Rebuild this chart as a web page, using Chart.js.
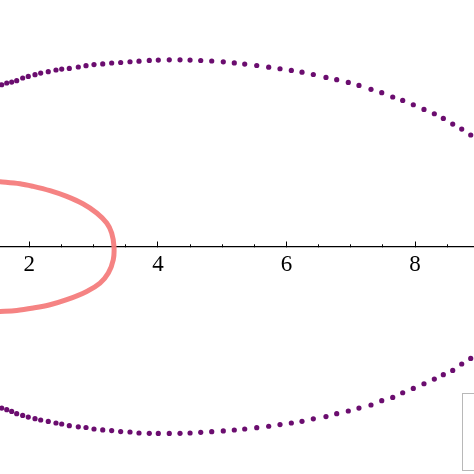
<!DOCTYPE html>
<html>
<head>
<meta charset="utf-8">
<script src="https://cdn.jsdelivr.net/npm/chart.js@4.4.1/dist/chart.umd.min.js"></script>
<style>
  html, body { margin: 0; padding: 0; background: #fff; }
  #wrap { position: relative; width: 474px; height: 474px; overflow: hidden; }
  #legendBox {
    position: absolute; left: 462px; top: 393px; width: 40px; height: 76px;
    border: 1.5px solid #b8b8b8; background: #fff;
  }
</style>
</head>
<body>
<div id="wrap">
  <canvas id="orbitChart" width="474" height="474"></canvas>
  <div id="legendBox"></div>
</div>
<script>
// tick labels on the x axis
var tickLabels = [2, 4, 6, 8];

// inner (pink) closed curve
var pinkX = [1.45, 1.544, 1.855, 2.062, 2.322, 2.582, 2.840, 3.048, 3.204, 3.281, 3.317,
             3.306, 3.229, 3.100, 2.893, 2.582, 2.322, 2.062, 1.804, 1.544, 1.45];
var pinkY = [1.015, 1.008, 0.977, 0.935, 0.868, 0.779, 0.661, 0.521, 0.365, 0.210, 0.0,
             -0.205, -0.412, -0.568, -0.698, -0.827, -0.905, -0.956, -0.994, -1.009, -1.012];

// outer (purple) dotted curve, x positions of the dots
var purpleX = [1.571, 1.649, 1.726, 1.804, 1.897, 1.984, 2.089, 2.177, 2.295, 2.415,
               2.504, 2.622, 2.762, 2.882, 3.006, 3.142, 3.281, 3.421, 3.566, 3.706,
               3.866, 4.006, 4.177, 4.344, 4.500, 4.666, 4.837, 5.017, 5.188, 5.350,
               5.537, 5.723, 5.899, 6.075, 6.241, 6.417, 6.614, 6.781, 6.961, 7.127,
               7.314, 7.481, 7.652, 7.807, 7.972, 8.138, 8.299, 8.439, 8.585, 8.725, 8.865];
var purpleUpperY = [2.516, 2.543, 2.558, 2.579, 2.621, 2.645, 2.672, 2.698, 2.719, 2.745,
                    2.760, 2.770, 2.792, 2.812, 2.830, 2.840, 2.854, 2.862, 2.874, 2.882,
                    2.895, 2.900, 2.903, 2.903, 2.900, 2.893, 2.885, 2.872, 2.856, 2.838,
                    2.815, 2.790, 2.765, 2.739, 2.712, 2.675, 2.630, 2.595, 2.552, 2.505,
                    2.445, 2.392, 2.325, 2.272, 2.205, 2.132, 2.065, 1.992, 1.905, 1.827, 1.734];
var purpleLowerY = [-2.512, -2.538, -2.565, -2.600, -2.627, -2.652, -2.678, -2.698, -2.720, -2.745,
                    -2.760, -2.787, -2.805, -2.815, -2.838, -2.852, -2.862, -2.878, -2.885, -2.900,
                    -2.905, -2.907, -2.907, -2.905, -2.900, -2.890, -2.880, -2.868, -2.854, -2.838,
                    -2.818, -2.795, -2.770, -2.745, -2.718, -2.680, -2.645, -2.600, -2.558, -2.512,
                    -2.465, -2.398, -2.347, -2.274, -2.207, -2.134, -2.061, -1.994, -1.927, -1.827, -1.740];

function toPoints(xs, ys) {
    return xs.map(function (x, i) { return { x: x, y: ys[i] }; });
}

var purpleColor = '#6b0d6f';
var pinkColor = 'rgba(244, 124, 124, 0.95)';

var ctx = document.getElementById('orbitChart').getContext('2d');
var orbitChart = new Chart(ctx, {
    type: 'scatter',
    data: {
        datasets: [{
            label: 'inner',
            data: toPoints(pinkX, pinkY),
            showLine: true,
            borderColor: pinkColor,
            borderWidth: 5,
            tension: 0.35,
            pointRadius: 0,
            xAxisID: 'x'
        }, {
            label: 'outer upper',
            data: toPoints(purpleX, purpleUpperY),
            showLine: false,
            pointRadius: 2.6,
            pointBorderWidth: 0,
            pointBackgroundColor: purpleColor,
            xAxisID: 'x'
        }, {
            label: 'outer lower',
            data: toPoints(purpleX, purpleLowerY),
            showLine: false,
            pointRadius: 2.6,
            pointBorderWidth: 0,
            pointBackgroundColor: purpleColor,
            xAxisID: 'x'
        }]
    },
    options: {
        responsive: false,
        animation: false,
        devicePixelRatio: 1,
        layout: { padding: 0, autoPadding: false },
        plugins: { legend: { display: false }, tooltip: { enabled: false } },
        scales: {
            y: {
                display: false,
                min: -3.538,
                max: 3.834
            },
            // minor ticks every 0.5, no labels
            x: {
                type: 'linear',
                position: { y: 0 },
                min: 1.5443,
                max: 8.916,
                border: { display: true, color: '#000', width: 1.3 },
                grid: { drawOnChartArea: false, drawTicks: true, tickLength: -3, tickColor: '#000', tickWidth: 1 },
                ticks: { stepSize: 0.5, includeBounds: false, display: false },
                afterFit: function (scale) { scale.paddingLeft = 0; scale.paddingRight = 0; }
            },
            // major ticks with labels
            xMajor: {
                type: 'linear',
                axis: 'x',
                position: { y: 0 },
                min: 1.5443,
                max: 8.916,
                border: { display: false },
                grid: { drawOnChartArea: false, drawTicks: true, tickLength: -5.5, tickColor: '#000', tickWidth: 1 },
                ticks: {
                    stepSize: 2,
                    includeBounds: false,
                    autoSkip: false,
                    maxRotation: 0,
                    padding: 10,
                    color: '#000',
                    font: { family: 'Liberation Serif', size: 23 },
                    callback: function (v) { return tickLabels.indexOf(v) >= 0 ? String(v) : ''; }
                },
                afterFit: function (scale) { scale.paddingLeft = 0; scale.paddingRight = 0; }
            }
        }
    }
});
</script>
</body>
</html>
